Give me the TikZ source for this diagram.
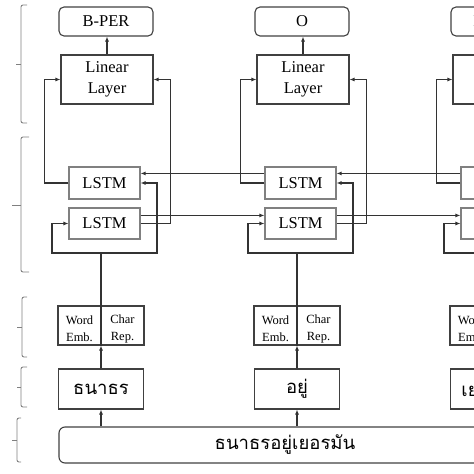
\documentclass[tikz,border=0pt]{standalone}
\usepackage{fontspec}
\setmainfont{Liberation Serif}
\newfontfamily\thaifont[Script=Thai]{Loma}
\usetikzlibrary{calc,arrows.meta}
\begin{document}
\begin{tikzpicture}[x=1bp,y=-1bp,
  line/.style={draw=black!80,line width=1.1bp},
  arr/.style={line,-{Latex[length=5bp,width=4bp]}},
  brace/.style={draw=black!50,line width=0.9bp,rounded corners=2bp},
  outbox/.style={draw=black!75,line width=1.1bp,rounded corners=5bp,minimum width=94bp,minimum height=29bp,inner sep=0pt,font=\fontsize{16.5bp}{20bp}\selectfont},
  linbox/.style={draw=black!75,line width=1.1bp,minimum width=92bp,minimum height=49bp,inner sep=0pt,align=center,font=\fontsize{16.5bp}{21bp}\selectfont},
  lstmbox/.style={draw=black!50,line width=1.1bp,minimum width=71bp,minimum height=32bp,inner sep=0pt,font=\fontsize{16.5bp}{20bp}\selectfont},
  embbox/.style={draw=black!75,line width=1.1bp,minimum width=86bp,minimum height=39bp,inner sep=0pt},
  embtext/.style={inner sep=0pt,align=center,font=\fontsize{12.5bp}{17bp}\selectfont},
  tokbox/.style={draw=black!75,line width=1.1bp,minimum width=85bp,minimum height=40bp,inner sep=0pt,font=\thaifont\fontsize{18.5bp}{22bp}\selectfont},
  sentbox/.style={draw=black!75,line width=1.1bp,rounded corners=6bp,minimum width=452bp,minimum height=36bp,inner sep=0pt,font=\thaifont\fontsize{18.5bp}{22bp}\selectfont}
]
\useasboundingbox (0,0) rectangle (474,474);
\clip (0,0) rectangle (474,474);

% sentence box
\node[sentbox] (sent) at (285,445) {ธนาธรอยู่เยอรมัน};

\foreach \i/\c/\o/\t in {1/0/B-PER/ธนาธร,2/196/O/อยู่,3/392/B-LOC/เยอรมัน}{
  \node[outbox] (out\i) at (106+\c,21.5) {\o};
  \node[linbox] (lin\i) at (107+\c,79.5) {Linear\\Layer};
  \node[lstmbox] (bw\i) at (104.5+\c,183) {LSTM};
  \node[lstmbox,minimum height=31bp] (fw\i) at (104.5+\c,223.5) {LSTM};
  \node[embbox] (emb\i) at (101+\c,325.5) {};
  \node[embtext] (we\i) at (79.5+\c,329) {Word\\Emb.};
  \node[embtext] (cr\i) at (122.5+\c,329) {Char\\Rep.};
  \node[tokbox] (tok\i) at (101+\c,389) {\t};
  \coordinate (j\i) at (101+\c,253);
  % connectors
  \draw[arr] (lin\i.north) -- (lin\i.north |- out\i.south);
  \draw[arr] (bw\i.west) -- ++(-24,0) |- (lin\i.west);
  \draw[arr] (fw\i.east) -- ++(30,0) |- (lin\i.east);
  \draw[line] (emb\i.south) -- (emb\i.north) -- (j\i);
  \draw[arr] (j\i) -- ++(-49,0) |- (fw\i.west);
  \draw[arr] (j\i) -- ++(56,0) |- (bw\i.east);
  \draw[arr] (tok\i.north) -- (emb\i.south);
  \draw[arr] (tok\i.south |- sent.north) -- (tok\i.south);
}
% between columns
\draw[arr] ($(fw1.north east)+(0,8)$) -- ($(fw2.north west)+(0,8)$);
\draw[arr] ($(fw2.north east)+(0,8)$) -- ($(fw3.north west)+(0,8)$);
\draw[arr] ($(bw2.north west)+(0,7)$) -- ($(bw1.north east)+(0,7)$);
\draw[arr] ($(bw3.north west)+(0,7)$) -- ($(bw2.north east)+(0,7)$);

% braces
\draw[brace] (27,5) -- (21,5) -- (21,123) -- (27,123);
\draw[brace] (21,64) -- (16,64);
\draw[brace] (29,137) -- (21,137) -- (21,272) -- (29,272);
\draw[brace] (21,205) -- (12,205);
\draw[brace] (27,297) -- (22,297) -- (22,357) -- (27,357);
\draw[brace] (22,327) -- (17,327);
\draw[brace] (27,367) -- (21,367) -- (21,407) -- (27,407);
\draw[brace] (21,387) -- (17,387);
\draw[brace] (21,418) -- (17,418) -- (17,462) -- (21,462);
\draw[brace] (17,440) -- (12,440);
\end{tikzpicture}
\end{document}
